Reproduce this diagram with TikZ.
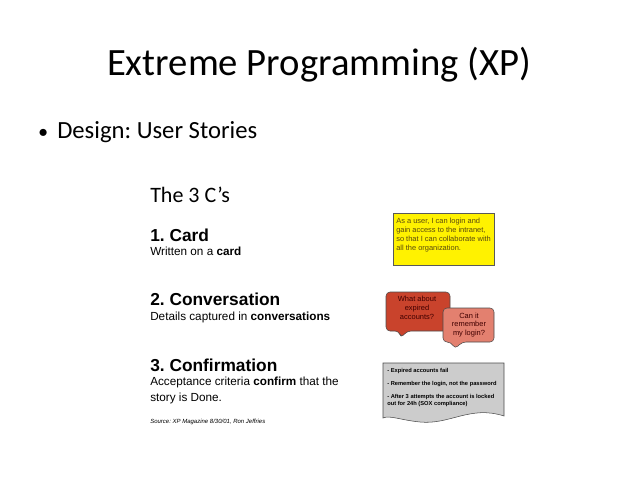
\documentclass[tikz,border=0pt]{standalone}
\usepackage{fontspec}
\setmainfont{Carlito}
\newfontfamily\arial{Liberation Sans}
\definecolor{bubA}{HTML}{C9432C}
\definecolor{bubB}{HTML}{E3806F}
\definecolor{cardtxt}{HTML}{5A4A10}
\frenchspacing
\begin{document}
\begin{tikzpicture}[x=0.75pt,y=-0.75pt,
  head/.style={anchor=west,font=\arial\bfseries\fontsize{13}{15}\selectfont,inner sep=0},
  sub/.style={anchor=north west,font=\arial\fontsize{8.8}{11.5}\selectfont,inner sep=0,align=left},
  tiny/.style={font=\arial\fontsize{5.6}{6.6}\selectfont,align=left,inner sep=0}]
\useasboundingbox (0,0) rectangle (638,478);
\node (title) at (319,65) {\fontsize{29}{34}\selectfont Extreme Programming (XP)};
\node[anchor=west] (bul) at (34,132) {\fontsize{18.5}{22}\selectfont\raisebox{1pt}{\scalebox{0.8}{$\bullet$}}\hspace{7pt}Design: User Stories};
\node[anchor=west,inner sep=0] (c3) at (150,195) {\fontsize{16.5}{18}\selectfont The 3 C's};
\node[head] (h1) at (150,235) {1. Card};
\node[sub] (s1) at (150,247) {Written on a \textbf{card}};
\node[head] (h2) at (150,299) {2. Conversation};
\node[sub] (s2) at (150,312) {Details captured in \textbf{conversations}};
\node[head] (h3) at (150,365) {3. Confirmation};
\node[sub] (s3) at (150,377) {Acceptance criteria \textbf{confirm} that the\\story is Done.};
\node[anchor=west,inner sep=0,font=\arial\itshape\fontsize{4.5}{5}\selectfont] (src) at (150,422) {Source: XP Magazine 8/30/01, Ron Jeffries};
% card
\draw[fill=yellow,draw=gray!70!black] (393,213) rectangle (494,265);
\node[tiny,anchor=north west,text=cardtxt] (card) at (396,218) {As a user, I can login and\\gain access to the intranet,\\so that I can collaborate with\\all the organization.};
% bubbles
\draw[fill=bubA,draw=black!70,rounded corners=3pt] (386,292) -- (450,292) -- (450,331) -- (407,331) -- (401,338) -- (399,331) -- (386,331) -- cycle;
\node[tiny,align=center,text=black!75!red] (b1) at (417,308) {What about\\expired\\accounts?};
\draw[fill=bubB,draw=black!70,rounded corners=3pt] (443,308) -- (494,308) -- (494,342) -- (462,342) -- (455,349) -- (451,342) -- (443,342) -- cycle;
\node[tiny,align=center,text=black!75!red] (b2) at (469,325) {Can it\\remember\\my login?};
% document
\draw[fill=black!20,draw=black!70] (383,363) -- (504,363) -- (504,416) .. controls (470,405) and (450,425) .. (420,422) .. controls (400,420) and (390,415) .. (383,418) -- cycle;
\node[tiny,anchor=north west,font=\arial\bfseries\fontsize{4.3}{5.6}\selectfont] (d) at (387,368) {- Expired accounts fail\\[4pt]- Remember the login, not the password\\[4pt]- After 3 attempts the account is locked\\out for 24h (SOX compliance)};
\end{tikzpicture}
\end{document}
